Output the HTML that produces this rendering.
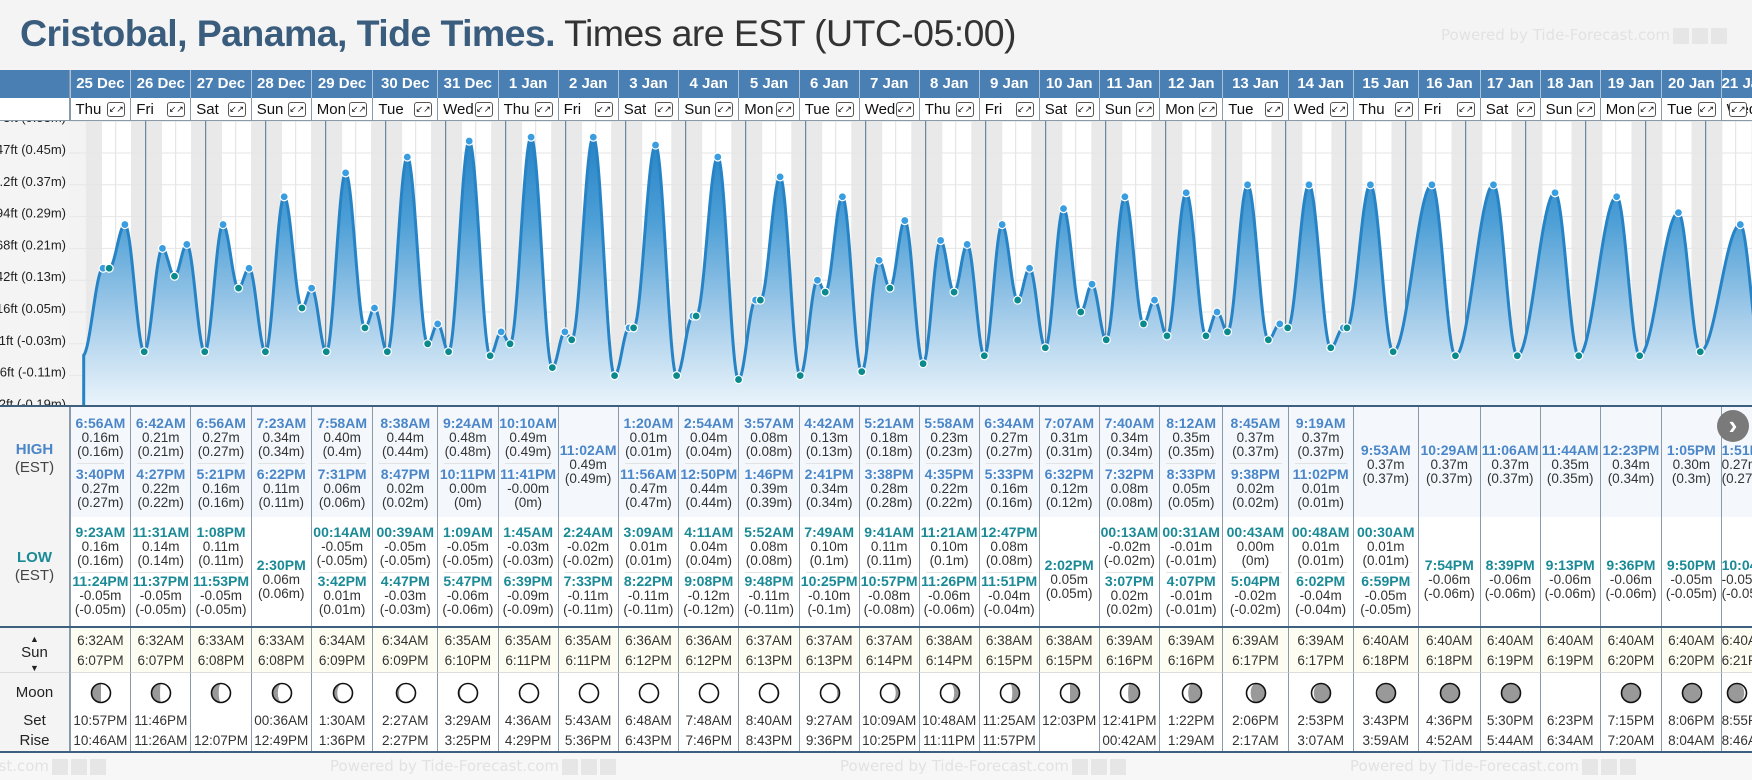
<!DOCTYPE html>
<html><head><meta charset="utf-8">
<style>
html,body{margin:0;padding:0;}
body{width:1752px;height:780px;overflow:hidden;background:#f4f4f4;font-family:"Liberation Sans",sans-serif;position:relative;}
.abs{position:absolute;}
#title{left:20px;top:12px;font-size:37.5px;white-space:nowrap;letter-spacing:-0.6px;}
#title b{color:#3a5d7e;}
#title span{color:#333;font-weight:normal;}
.powered{color:#e2e2e2;font-family:"DejaVu Sans",sans-serif;font-size:15px;white-space:nowrap;}
.pic{display:inline-block;width:16px;height:16px;background:#e6e6e6;margin-left:3px;vertical-align:middle;}
.col{position:absolute;box-sizing:border-box;overflow:hidden;}
.hd{background:#4a7fb3;color:#fff;font-weight:bold;font-size:15px;text-align:center;line-height:28px;border-left:1px solid #a9c2da;white-space:nowrap;}
.wd{background:#fff;color:#111;font-size:15px;line-height:23px;border-left:1px solid #8a9aa8;border-bottom:1px solid #8a9aa8;}
.wd .nm{position:absolute;left:5px;}
.wd .btn{position:absolute;right:5px;top:4px;width:18px;height:15px;border:1px solid #555;border-radius:3px;box-sizing:border-box;font-size:9px;line-height:13px;text-align:center;color:#111;background:#fff;}
.tc{border-left:1px solid #8a9aa8;text-align:center;font-size:13.5px;color:#333;}
.tm{position:absolute;left:0;right:0;text-align:center;font-weight:bold;font-size:14px;white-space:nowrap;}
.tv{position:absolute;left:0;right:0;text-align:center;font-size:13.5px;color:#333;white-space:nowrap;}
.sep{position:absolute;left:6px;right:6px;height:1px;background:#e3e3e3;}
.lbl{position:absolute;left:0;width:69px;text-align:center;}
</style></head>
<body>
<div id="title" class="abs"><b>Cristobal, Panama, Tide Times.</b> <span>Times are EST (UTC-05:00)</span></div>
<div class="abs powered" style="left:1441px;top:26px;">Powered by Tide-Forecast.com<span class="pic"></span><span class="pic"></span><span class="pic"></span></div>

<div id="wrap"></div>

<script>
const days=['25 Dec','26 Dec','27 Dec','28 Dec','29 Dec','30 Dec','31 Dec','1 Jan','2 Jan','3 Jan','4 Jan','5 Jan','6 Jan','7 Jan','8 Jan','9 Jan','10 Jan','11 Jan','12 Jan','13 Jan','14 Jan','15 Jan','16 Jan','17 Jan','18 Jan','19 Jan','20 Jan','21 Jan'];
const weekdays=['Thu','Fri','Sat','Sun','Mon','Tue','Wed','Thu','Fri','Sat','Sun','Mon','Tue','Wed','Thu','Fri','Sat','Sun','Mon','Tue','Wed','Thu','Fri','Sat','Sun','Mon','Tue','Wed'];
const highTimes=[['6:56AM','3:40PM'],['6:42AM','4:27PM'],['6:56AM','5:21PM'],['7:23AM','6:22PM'],['7:58AM','7:31PM'],['8:38AM','8:47PM'],['9:24AM','10:11PM'],['10:10AM','11:41PM'],['11:02AM'],['1:20AM','11:56AM'],['2:54AM','12:50PM'],['3:57AM','1:46PM'],['4:42AM','2:41PM'],['5:21AM','3:38PM'],['5:58AM','4:35PM'],['6:34AM','5:33PM'],['7:07AM','6:32PM'],['7:40AM','7:32PM'],['8:12AM','8:33PM'],['8:45AM','9:38PM'],['9:19AM','11:02PM'],['9:53AM'],['10:29AM'],['11:06AM'],['11:44AM'],['12:23PM'],['1:05PM'],['1:51PM']];
const highVals=[[0.16,0.27],[0.21,0.22],[0.27,0.16],[0.34,0.11],[0.40,0.06],[0.44,0.02],[0.48,0.00],[0.49,-0],[0.49],[0.01,0.47],[0.04,0.44],[0.08,0.39],[0.13,0.34],[0.18,0.28],[0.23,0.22],[0.27,0.16],[0.31,0.12],[0.34,0.08],[0.35,0.05],[0.37,0.02],[0.37,0.01],[0.37],[0.37],[0.37],[0.35],[0.34],[0.30],[0.27]];
const lowTimes=[['9:23AM','11:24PM'],['11:31AM','11:37PM'],['1:08PM','11:53PM'],['2:30PM'],['00:14AM','3:42PM'],['00:39AM','4:47PM'],['1:09AM','5:47PM'],['1:45AM','6:39PM'],['2:24AM','7:33PM'],['3:09AM','8:22PM'],['4:11AM','9:08PM'],['5:52AM','9:48PM'],['7:49AM','10:25PM'],['9:41AM','10:57PM'],['11:21AM','11:26PM'],['12:47PM','11:51PM'],['2:02PM'],['00:13AM','3:07PM'],['00:31AM','4:07PM'],['00:43AM','5:04PM'],['00:48AM','6:02PM'],['00:30AM','6:59PM'],['7:54PM'],['8:39PM'],['9:13PM'],['9:36PM'],['9:50PM'],['10:04PM']];
const lowVals=[[0.16,-0.05],[0.14,-0.05],[0.11,-0.05],[0.06],[-0.05,0.01],[-0.05,-0.03],[-0.05,-0.06],[-0.03,-0.09],[-0.02,-0.11],[0.01,-0.11],[0.04,-0.12],[0.08,-0.11],[0.10,-0.10],[0.11,-0.08],[0.10,-0.06],[0.08,-0.04],[0.05],[-0.02,0.02],[-0.01,-0.01],[0.00,-0.02],[0.01,-0.04],[0.01,-0.05],[-0.06],[-0.06],[-0.06],[-0.06],[-0.05],[-0.05]];
const prevLowTime=-1.2, prevLowVal=-0.06;
const sunrise=['6:32AM','6:32AM','6:33AM','6:33AM','6:34AM','6:34AM','6:35AM','6:35AM','6:35AM','6:36AM','6:36AM','6:37AM','6:37AM','6:37AM','6:38AM','6:38AM','6:38AM','6:39AM','6:39AM','6:39AM','6:39AM','6:40AM','6:40AM','6:40AM','6:40AM','6:40AM','6:40AM','6:40AM'];
const sunset=['6:07PM','6:07PM','6:08PM','6:08PM','6:09PM','6:09PM','6:10PM','6:11PM','6:11PM','6:12PM','6:12PM','6:13PM','6:13PM','6:14PM','6:14PM','6:15PM','6:15PM','6:16PM','6:16PM','6:17PM','6:17PM','6:18PM','6:18PM','6:19PM','6:19PM','6:20PM','6:20PM','6:21PM'];
const moonSet=['10:57PM','11:46PM','','00:36AM','1:30AM','2:27AM','3:29AM','4:36AM','5:43AM','6:48AM','7:48AM','8:40AM','9:27AM','10:09AM','10:48AM','11:25AM','12:03PM','12:41PM','1:22PM','2:06PM','2:53PM','3:43PM','4:36PM','5:30PM','6:23PM','7:15PM','8:06PM','8:55PM'];
const moonRise=['10:46AM','11:26AM','12:07PM','12:49PM','1:36PM','2:27PM','3:25PM','4:29PM','5:36PM','6:43PM','7:46PM','8:43PM','9:36PM','10:25PM','11:11PM','11:57PM','','00:42AM','1:29AM','2:17AM','3:07AM','3:59AM','4:52AM','5:44AM','6:34AM','7:20AM','8:04AM','8:46AM'];
const moonLit=[0.5,0.55,0.62,0.72,0.8,0.87,0.92,0.96,0.99,1,0.98,0.94,0.88,0.8,0.72,0.62,0.5,0.4,0.3,0.22,0.12,0.06,0.02,0,null,0.02,0.06,0.12];
const moonSide=['R','R','R','R','R','R','R','R','R','R','L','L','L','L','L','L','L','L','L','L','L','L','L','L','L','R','R','R'];
const yTicksM=[0.53,0.45,0.37,0.29,0.21,0.13,0.05,-0.03,-0.11,-0.19];
const yTicksFt=['1.73ft','1.47ft','1.2ft','0.94ft','0.68ft','0.42ft','0.16ft','-0.1ft','-0.36ft','-0.62ft'];
</script>
<script>
const NS='http://www.w3.org/2000/svg';
const W=document.getElementById('wrap');
const colW=[60.8,60,60.4,60.1,61.6,64.7,60.5,60,60.1,60.5,60.1,60.4,60,60,60,60,60,60.5,63,65.5,65,65.1,62,59.8,60.2,61.3,59.5,31.6];
const colX=[];let cx=69.5;for(const w of colW){colX.push(cx);cx+=w;}
function parseT(s){const m=s.match(/(\d+):(\d+)(AM|PM)/);let h=+m[1]%12;if(m[3]==='PM')h+=12;return h+(+m[2])/60;}
function fmt(v){return (Object.is(v,-0)?'-':'')+v.toFixed(2)+'m';}
function fmtP(v){return '('+(+v.toFixed(2))+'m)';}
function div(cls,style,html,parent){const d=document.createElement('div');if(cls)d.className=cls;d.setAttribute('style',style);if(html!==undefined)d.innerHTML=html;(parent||W).appendChild(d);return d;}

let d;
d=div('abs','left:0;top:70px;width:69px;height:28px;background:#4a7fb3;');

d=div('abs','left:0;top:98px;width:69px;height:23px;background:#fff;border-bottom:1px solid #8a9aa8;box-sizing:border-box;');

d=div('abs','left:0;top:406px;width:69px;height:111px;background:#f4f4f4;');
d=div('lbl','top:441px;color:#4a86c8;font-weight:bold;font-size:15px;line-height:18px;','HIGH<br><span style="color:#444;font-weight:normal">(EST)</span>');

d=div('abs','left:0;top:517px;width:69px;height:109px;background:#f4f4f4;');
d=div('lbl','top:549px;color:#1a8a96;font-weight:bold;font-size:15px;line-height:18px;','LOW<br><span style="color:#444;font-weight:normal">(EST)</span>');

d=div('abs','left:0;top:628px;width:69px;height:44px;background:#f4f4f4;');
d=div('lbl','top:631px;font-size:15px;color:#222;line-height:14px;','<span style="font-size:9px">▲</span><br>Sun<br><span style="font-size:9px">▼</span>');

d=div('abs','left:0;top:672px;width:69px;height:80px;background:#f4f4f4;border-top:1px solid #ddd;box-sizing:border-box;');
d=div('lbl','top:683px;font-size:15px;color:#222;line-height:20px;','Moon<br><div style="height:8px"></div>Set<br>Rise');

div('abs','left:68.5px;top:70px;width:1px;height:682px;background:#8a9aa8;');

days.forEach((day,i)=>{
  const x=colX[i],w=colW[i];
  let h=div('col hd',`left:${x}px;top:70px;width:${w}px;height:28px;`,day);
  
  let wd=div('col wd',`left:${x}px;top:98px;width:${w}px;height:23px;`,`<span class="nm">${weekdays[i]}</span>`);
  
  let b=div('btn','','&#8601;&#8599;',wd);
  
  let hc=div('col tc',`left:${x}px;top:406px;width:${w}px;height:111px;background:#f4f8fc;`);
  
  const ht=highTimes[i],hv=highVals[i];
  const hy=ht.length===2?[9,60]:[36];
  ht.forEach((t,k)=>{
    div('tm',`top:${hy[k]}px;color:#4a86c8;`,t,hc);
    div('tv',`top:${hy[k]+15}px;`,fmt(hv[k]),hc);
    div('tv',`top:${hy[k]+29}px;`,fmtP(hv[k]),hc);
  });
  if(ht.length===2)div('sep','top:57px;','',hc);
  let lc=div('col tc',`left:${x}px;top:517px;width:${w}px;height:109px;background:#fff;`);
  
  const lt=lowTimes[i],lv=lowVals[i];
  const ly=lt.length===2?[7,56]:[40];
  lt.forEach((t,k)=>{
    div('tm',`top:${ly[k]}px;color:#1a8a96;`,t,lc);
    div('tv',`top:${ly[k]+15}px;`,fmt(lv[k]),lc);
    div('tv',`top:${ly[k]+29}px;`,fmtP(lv[k]),lc);
  });
  if(lt.length===2)div('sep','top:55px;','',lc);
  let sc=div('col tc',`left:${x}px;top:628px;width:${w}px;height:44px;background:#fdfdf1;line-height:20px;padding-top:3px;white-space:nowrap;`,sunrise[i]+'<br>'+sunset[i]);
  
  let mc=div('col tc',`left:${x}px;top:672px;width:${w}px;height:80px;background:#fff;border-top:1px solid #ddd;`);
  
  div('tv','top:40px;',moonSet[i],mc);
  div('tv','top:60px;',moonRise[i],mc);
  if(moonLit[i]!==null){
    const s=document.createElementNS(NS,'svg');
    s.setAttribute('width','22');s.setAttribute('height','22');
    s.setAttribute('style',`position:absolute;left:${w/2-11}px;top:9px;`);
    
    const r=9.5,c=11,f=moonLit[i],side=moonSide[i]==='R'?1:-1;
    const rx=Math.abs(1-2*f)*r;
    const sweepHalf=side===1?1:0;
    const sweepTerm=(f>0.5)?(side===1?1:0):(side===1?0:1);
    let p=`M${c} ${c-r} A${r} ${r} 0 0 ${sweepHalf} ${c} ${c+r} A${rx} ${r} 0 0 ${sweepTerm} ${c} ${c-r}Z`;
    s.innerHTML=`<circle cx="${c}" cy="${c}" r="${r}" fill="#999"/>`+(f>0.005?`<path d="${p}" fill="#fff"/>`:'')+`<circle cx="${c}" cy="${c}" r="${r}" fill="none" stroke="#111" stroke-width="1.6"/>`;
    mc.appendChild(s);
  }
});
div('abs','left:0;top:405px;width:1752px;height:2px;background:#3e5f7d;');
div('abs','left:0;top:626px;width:1752px;height:2px;background:#3e5f7d;');
div('abs','left:0;top:751px;width:1752px;height:2px;background:#3e5f7d;');
d=div('abs','left:0;top:753px;width:1752px;height:27px;background:#f7f7f7;overflow:hidden;');

[-180,330,840,1350].forEach(px=>{
  const f=div('abs powered',`left:${px}px;top:4px;`,'Powered by Tide-Forecast.com<span class="pic"></span><span class="pic"></span><span class="pic"></span>',d);
  
});
let nb=div('abs','left:1717px;top:410px;width:32px;height:32px;border-radius:50%;background:#7a7a7a;color:#fff;font-size:26px;line-height:30px;text-align:center;font-weight:bold;','›');


const X0=85.7,PX_PER_H=2.5;
const xs=t=>X0+t*PX_PER_H;
const ys=v=>153+(0.45-v)*397.5;
const svg=document.createElementNS(NS,'svg');
svg.setAttribute('width','1752');svg.setAttribute('height','284');
svg.setAttribute('style','position:absolute;left:0;top:121px;');
svg.setAttribute('viewBox','0 121 1752 284');

document.body.appendChild(svg);
let g='';
g+=`<defs><linearGradient id="gf" gradientUnits="userSpaceOnUse" x1="0" y1="121" x2="0" y2="405"><stop offset="0" stop-color="#1f7dc2"/><stop offset="0.35" stop-color="#4d9fd6"/><stop offset="0.7" stop-color="#a6cdea"/><stop offset="1" stop-color="#eaf4fb"/></linearGradient><clipPath id="cp"><rect x="69" y="121" width="1683" height="284"/></clipPath></defs>`;
g+=`<rect x="0" y="121" width="69" height="284" fill="#f4f4f4"/>`;
g+=`<rect x="69" y="121" width="1683" height="284" fill="#f3f3f3"/>`;
let bg='';
days.forEach((d_,i)=>{
  const x0=xs(i*24);
  bg+=`<rect x="${x0}" y="121" width="60" height="284" fill="#fff"/>`;
  bg+=`<rect x="${x0}" y="121" width="${parseT(sunrise[i])*PX_PER_H}" height="284" fill="#e9e9e9"/>`;
  const ss=parseT(sunset[i]);
  bg+=`<rect x="${xs(i*24+ss)}" y="121" width="${(24-ss)*PX_PER_H}" height="284" fill="#e9e9e9"/>`;
  bg+=`<line x1="${xs(i*24+12)}" y1="121" x2="${xs(i*24+12)}" y2="405" stroke="#e0e0e0" stroke-width="1"/>`;
});
g+=`<g clip-path="url(#cp)">${bg}</g>`;
yTicksM.forEach((v,k)=>{
  g+=`<line x1="69" y1="${ys(v)}" x2="1752" y2="${ys(v)}" stroke="#e6e6e6" stroke-width="1"/>`;
  g+=`<text x="66" y="${ys(v)+1}" text-anchor="end" font-size="13" fill="#222" font-family="Liberation Sans, sans-serif">${yTicksFt[k]} (${yTicksM[k]}m)</text>`;
});
days.forEach((d_,i)=>{ if(i>0) g+=`<line x1="${xs(i*24)}" y1="121" x2="${xs(i*24)}" y2="405" stroke="#50708e" stroke-width="1"/>`; });
svg.innerHTML=g;
const ext=[{t:prevLowTime,v:prevLowVal,hi:false}];
days.forEach((d_,i)=>{
  highTimes[i].forEach((t,k)=>ext.push({t:i*24+parseT(t),v:highVals[i][k],hi:true}));
  lowTimes[i].forEach((t,k)=>ext.push({t:i*24+parseT(t),v:lowVals[i][k],hi:false}));
});
ext.sort((a,b)=>a.t-b.t);
const tStart=-0.8;
let pts=[];
for(let j=0;j<ext.length-1;j++){
  const a=ext[j],b=ext[j+1];
  for(let t=Math.max(a.t,tStart);t<b.t;t+=0.2){
    const s=(t-a.t)/(b.t-a.t);
    pts.push([xs(t),ys(a.v+(b.v-a.v)*(1-Math.cos(Math.PI*s))/2)]);
  }
}
const last=ext[ext.length-1];pts.push([xs(last.t),ys(last.v)]);
const line='M'+pts.map(p=>p[0].toFixed(1)+' '+p[1].toFixed(1)).join('L');
const area=document.createElementNS(NS,'path');
area.setAttribute('d',line+`L${pts[pts.length-1][0]} 405L${pts[0][0]} 405Z`);
area.setAttribute('fill','url(#gf)');area.setAttribute('clip-path','url(#cp)');

svg.appendChild(area);
const ln=document.createElementNS(NS,'path');
ln.setAttribute('d',`M${pts[0][0].toFixed(1)} 405L`+line.slice(1));
ln.setAttribute('fill','none');ln.setAttribute('stroke','#2684c6');ln.setAttribute('stroke-width','3');ln.setAttribute('clip-path','url(#cp)');

svg.appendChild(ln);
ext.forEach(e=>{
  if(e.t<0)return;
  const c=document.createElementNS(NS,'circle');
  c.setAttribute('cx',xs(e.t));c.setAttribute('cy',ys(e.v));c.setAttribute('r','4');
  c.setAttribute('fill',e.hi?'#3a9de0':'#0b8a8e');c.setAttribute('stroke','#fff');c.setAttribute('stroke-width','1.2');
  c.setAttribute('clip-path','url(#cp)');
  
  
  svg.appendChild(c);
});
</script>
</body></html>
